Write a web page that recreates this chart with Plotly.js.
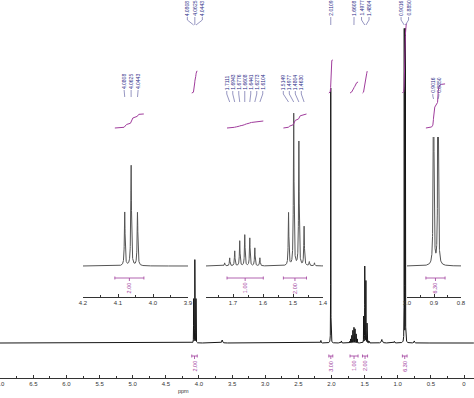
<!DOCTYPE html>
<html><head><meta charset="utf-8">
<script src="https://cdn.plot.ly/plotly-3.0.1.min.js"></script>
<style>html,body{margin:0;padding:0;background:#fff}#chart{width:474px;height:398px}</style>
</head><body><div id="chart"></div>
<script>
// ---------------- DATA ----------------
// peak list (ppm), heights in main-spectrum units, half-widths (ppm)
const peakPpm    = [4.0808, 4.0625, 4.0443, 3.650, 2.160, 2.0109, 1.850, 1.7278, 1.7111, 1.6943, 1.6776, 1.6608, 1.6441, 1.6273, 1.6104, 1.5149, 1.4977, 1.4804, 1.4630, 1.4457, 1.4285, 1.240, 1.050, 0.9016, 0.8850, 0.750];
const peakHeight = [44, 83, 44, 3, 2.5, 255, 2, 1.5, 4, 7.5, 12.5, 15.5, 14, 9, 4, 26.5, 76.5, 62, 19.5, 2, 1.5, 3.5, 1.5, 313, 313, 2];
const peakWidth  = [0.0012, 0.0012, 0.0012, 0.006, 0.003, 0.0012, 0.003, 0.0012, 0.0012, 0.0012, 0.0012, 0.0012, 0.0012, 0.0012, 0.0012, 0.0012, 0.0012, 0.0012, 0.0012, 0.0012, 0.0012, 0.008, 0.004, 0.0012, 0.0012, 0.004];

// integrations
const intFrom  = [4.109, 2.040, 1.720, 1.532, 0.930];
const intTo    = [4.026, 1.980, 1.599, 1.455, 0.859];
const intValue = [2.00, 3.00, 1.00, 2.00, 6.30];

// peak-pick label groups
const topLabelGroups    = [[4.0808, 4.0625, 4.0443], [2.0109], [1.6608, 1.4977, 1.4804], [0.9016, 0.8850]];
const inset1LabelGroups = [[4.0808, 4.0625, 4.0443]];
const inset2LabelGroups = [[1.7111, 1.6943, 1.6776, 1.6608, 1.6441, 1.6273, 1.6104], [1.5149, 1.4977, 1.4804, 1.4630]];
const inset3LabelGroups = [[0.9016, 0.8850]];

// tick labels
const mainTicks     = [7.0, 6.5, 6.0, 5.5, 5.0, 4.5, 4.0, 3.5, 3.0, 2.5, 2.0, 1.5, 1.0, 0.5, 0.0];
const mainTickText  = ['7.0', '6.5', '6.0', '5.5', '5.0', '4.5', '4.0', '3.5', '3.0', '2.5', '2.0', '1.5', '1.0', '0.5', '0'];
const inset1Ticks   = [4.2, 4.1, 4.0, 3.9];
const inset1TickText= ['4.2', '4.1', '4.0', '3.9'];
const inset2Ticks   = [1.7, 1.6, 1.5, 1.4];
const inset2TickText= ['1.7', '1.6', '1.5', '1.4'];
const inset3Ticks   = [1.0, 0.9, 0.8];
const inset3TickText= ['1.0', '0.9', '0.8'];

// ---------------- LAYOUT GEOMETRY ----------------
const W = 474, H = 378;
const FONT = 'Arial, sans-serif';
const SPEC = '#161616', INSET = '#555555', PURPLE = '#a03c9c', NAVY = '#2c2c88', LINK = '#6a6aa8', AX = '#333333';

function spec(x, scale) {
  let s = 0;
  for (let i = 0; i < peakPpm.length; i++) {
    const g = peakWidth[i], d = x - peakPpm[i];
    s += peakHeight[i] * g * g / (g * g + d * d);
  }
  return s * scale;
}
function gridRange(a, b, step) { const r = []; for (let x = a; x >= b - 1e-9; x -= step) r.push(+x.toFixed(5)); return r; }

const panels = {
  main:   {xa: 'x',  ya: 'y',  range: [7.003, -0.151], px: [0, 474],   base: 343, axisY: 378, top: 0,   scale: 1},
  inset1: {xa: 'x2', ya: 'y2', range: [4.2, 3.9],      px: [83, 188],  base: 266, axisY: 297, top: 0,   scale: 1.217, ticks: inset1Ticks, tt: inset1TickText},
  inset2: {xa: 'x3', ya: 'y3', range: [1.79, 1.40],    px: [206, 323], base: 266, axisY: 297, top: 0,   scale: 2.0,   ticks: inset2Ticks, tt: inset2TickText},
  inset3: {xa: 'x4', ya: 'y4', range: [1.0, 0.8],      px: [407, 461], base: 266, axisY: 297, top: 137, scale: 1.0,   ticks: inset3Ticks, tt: inset3TickText, overlay: 'y5'}
};
function ppmPerPx(p) { return (p.range[0] - p.range[1]) / (p.px[1] - p.px[0]); }
function ppmToPx(p, v) { return p.px[0] + (p.range[0] - v) / ppmPerPx(p); }
function pxToPpm(p, x) { return p.range[0] - (x - p.px[0]) * ppmPerPx(p); }
function U(p, pixel) { return p.base - pixel; }   // pixel row -> y units

const traces = [], annotations = [];

// ---- main spectrum ----
(function () {
  const p = panels.main;
  let xs = gridRange(p.range[0], p.range[1], 0.003);
  peakPpm.forEach((c, i) => { const w = Math.max(0.03, peakWidth[i] * 25); for (let x = c + w; x >= c - w; x -= 0.0002) xs.push(+x.toFixed(5)); });
  xs = Array.from(new Set(xs)).sort((a, b) => b - a);
  traces.push({x: xs, y: xs.map(x => spec(x, 1)), xaxis: 'x', yaxis: 'y', mode: 'lines', line: {color: SPEC, width: 1}, hoverinfo: 'skip'});
})();
// ---- inset spectra ----
['inset1', 'inset2', 'inset3'].forEach(k => {
  const p = panels[k];
  const xs = gridRange(p.range[0], p.range[1], 0.0002);
  traces.push({x: xs, y: xs.map(x => spec(x, p.scale)), xaxis: p.xa, yaxis: p.ya, mode: 'lines', line: {color: INSET, width: 1}, hoverinfo: 'skip'});
});

// ---- integral curves + brackets ----
function integralCurve(i, p, ya, startPixel, perH) {
  const a = intFrom[i], b = intTo[i], n = 300;
  const xs = [], cum = [0];
  for (let k = 0; k <= n; k++) xs.push(a - (a - b) * k / n);
  for (let k = 1; k <= n; k++) cum.push(cum[k - 1] + (spec(xs[k - 1], 1) + spec(xs[k], 1)) / 2);
  const tot = cum[n];
  const y0 = U(p, startPixel);
  traces.push({x: xs, y: cum.map(c => y0 + intValue[i] * perH * c / tot), xaxis: p.xa, yaxis: ya, mode: 'lines', line: {color: PURPLE, width: 1}, hoverinfo: 'skip'});
}
function bracket(i, p, ya, pixel, fs) {
  const a = intFrom[i], b = intTo[i], m = (a + b) / 2, y = U(p, pixel);
  traces.push({x: [a, a, null, a, b, null, b, b, null, m, m], y: [y + 1.5, y - 1.5, null, y, y, null, y + 1.5, y - 1.5, null, y, y - 3],
    xaxis: p.xa, yaxis: ya, mode: 'lines', line: {color: PURPLE, width: 0.8}, hoverinfo: 'skip'});
  annotations.push({x: m, y: y - 3.5, xref: p.xa, yref: ya, text: intValue[i].toFixed(2), showarrow: false, textangle: -90,
    xanchor: 'center', yanchor: 'top', borderpad: 0, font: {family: FONT, size: fs, color: PURPLE}});
}
intFrom.forEach((a, i) => { integralCurve(i, panels.main, 'y', 93, 11); bracket(i, panels.main, 'y', 356, 5.5); });
['inset1', 'inset2', 'inset3'].forEach(k => {
  const p = panels[k], ya = p.overlay || p.ya;
  intFrom.forEach((a, i) => {
    if (a <= p.range[0] && intTo[i] >= p.range[1]) { integralCurve(i, p, ya, 128, 7); bracket(i, p, ya, 278, 5.5); }
  });
});

// ---- peak labels with connectors ----
function peakLabels(groups, p, ya, spacing, bottomPixel, kneePixel, endPixel, shifts) {
  const lx = [], ly = [];
  groups.forEach((g, gi) => {
    const cpx = g.reduce((s, v) => s + ppmToPx(p, v), 0) / g.length + (shifts ? shifts[gi] : 0);
    g.forEach((v, i) => {
      const lxPx = cpx + (i - (g.length - 1) / 2) * spacing;
      const lp = pxToPpm(p, lxPx);
      annotations.push({x: lp, y: U(p, bottomPixel), xref: p.xa, yref: ya, text: v.toFixed(4), showarrow: false, textangle: -90,
        xanchor: 'center', yanchor: 'bottom', borderpad: 0, font: {family: FONT, size: 5, color: NAVY}});
      lx.push(lp, lp, v, null); ly.push(U(p, bottomPixel), U(p, kneePixel), U(p, endPixel), null);
    });
  });
  traces.push({x: lx, y: ly, xaxis: p.xa, yaxis: ya, mode: 'lines', line: {color: LINK, width: 0.7}, hoverinfo: 'skip'});
}
peakLabels(topLabelGroups, panels.main, 'y', 7.5, 17, 20, 25);
peakLabels(inset1LabelGroups, panels.inset1, 'y2', 7, 90, 93, 97);
peakLabels(inset2LabelGroups, panels.inset2, 'y3', 6, 91, 94, 102, [0, -4]);
peakLabels(inset3LabelGroups, panels.inset3, 'y5', 6, 94, 96, 99);

// ---- ppm titles ----
annotations.push({x: 183 / W, y: (H - 391) / H, xref: 'paper', yref: 'paper', text: 'ppm', showarrow: false, xanchor: 'center', yanchor: 'middle', font: {family: FONT, size: 5.5, color: AX}});
['inset1', 'inset2', 'inset3'].forEach(k => {
  const p = panels[k];
  annotations.push({x: (p.range[0] + p.range[1]) / 2, y: U(p, 310), xref: p.xa, yref: p.overlay || p.ya, text: 'ppm', showarrow: false,
    xanchor: 'center', yanchor: 'middle', font: {family: FONT, size: 5, color: AX}});
});

// ---------------- AXES ----------------
function xdom(p) { return [p.px[0] / W, p.px[1] / W]; }
function ydom(top, bottom) { return [(H - bottom) / H, (H - top) / H]; }
const layout = {
  width: 474, height: 398, margin: {l: 0, r: 0, t: 0, b: 20},
  paper_bgcolor: '#ffffff', plot_bgcolor: 'rgba(0,0,0,0)', showlegend: false,
  annotations: annotations,
  xaxis: {domain: [0, 1], range: panels.main.range, anchor: 'y', showline: true, linecolor: AX, linewidth: 1,
    ticks: 'inside', ticklen: 3, tickcolor: AX, tickmode: 'array', tickvals: mainTicks, ticktext: mainTickText, ticklabeloverflow: 'allow',
    tickfont: {family: FONT, size: 6, color: AX}, minor: {tickmode: 'linear', tick0: 0, dtick: 0.25, ticks: 'inside', ticklen: 2, tickcolor: AX},
    showgrid: false, zeroline: false, fixedrange: true},
  yaxis: {domain: [0, 1], range: [U(panels.main, H), U(panels.main, 0)], anchor: 'x', visible: false, fixedrange: true}
};
[['inset1', 2], ['inset2', 3], ['inset3', 4]].forEach(([k, n]) => {
  const p = panels[k];
  layout['xaxis' + n] = {domain: xdom(p), range: p.range, anchor: 'y' + n, showline: true, linecolor: AX, linewidth: 1,
    ticks: 'inside', ticklen: 3, tickcolor: AX, tickmode: 'array', tickvals: p.ticks, ticktext: p.tt, ticklabeloverflow: 'allow',
    tickfont: {family: FONT, size: 6, color: AX}, minor: {tickmode: 'linear', tick0: 0, dtick: 0.05, ticks: 'inside', ticklen: 2, tickcolor: AX},
    showgrid: false, zeroline: false, fixedrange: true};
  layout['yaxis' + n] = {domain: ydom(p.top, p.axisY), range: [U(p, p.axisY), U(p, p.top)], anchor: 'x' + n, visible: false, fixedrange: true};
});
layout.yaxis5 = {domain: ydom(0, panels.inset3.axisY), range: [U(panels.inset3, panels.inset3.axisY), U(panels.inset3, 0)], anchor: 'x4', visible: false, fixedrange: true};

Plotly.newPlot('chart', traces, layout, {staticPlot: true, displayModeBar: false});
</script>
</body></html>
